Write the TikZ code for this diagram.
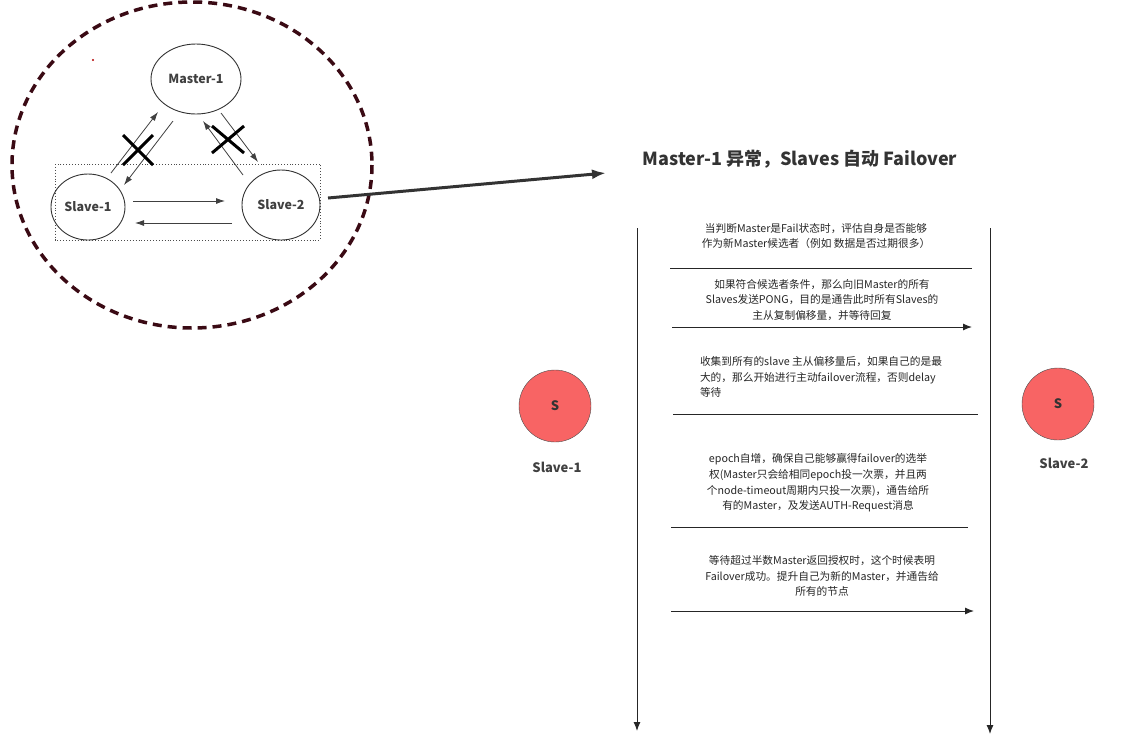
\documentclass[tikz,border=0pt]{standalone}
\usepackage{fontspec}
\setmainfont{Noto Sans CJK SC}
\usetikzlibrary{arrows.meta,shapes.geometric}
\definecolor{ring}{HTML}{3A0A14}
\definecolor{sred}{HTML}{F86464}
\tikzset{
  oval/.style={draw=black!80,line width=0.9pt,ellipse,inner sep=0pt,font=\bfseries\fontsize{12.5}{14}\selectfont,text=black!75},
  thin/.style={-{Latex[length=9pt,width=6pt]},black!75,line width=0.8pt},
  xmark/.style={line width=3pt,black},
  msg/.style={line width=1pt,black!85},
  msga/.style={msg,-{Latex[length=9pt,width=7pt]}},
  txt/.style={font=\fontsize{10.7}{15.7}\selectfont,text=black!85,align=center},
  scirc/.style={circle,draw=black!70,fill=sred,minimum size=72pt,font=\bfseries\fontsize{13}{14}\selectfont,text=black!80},
  lbl/.style={font=\bfseries\fontsize{13}{14}\selectfont,text=black!75}
}
\begin{document}
\begin{tikzpicture}[x=1pt,y=-1pt]
\useasboundingbox (0,0) rectangle (1144,740);
\draw[ring,line width=3.5pt,dash pattern=on 9pt off 6pt] (192,165) ellipse [x radius=180,y radius=163];
\fill[red!70!black] (93,60) circle (1.2);
\draw[black!70,dotted,line width=0.9pt] (55,164) rectangle (320,240);
\node[oval,minimum width=90pt,minimum height=70pt] (m1) at (196,79) {Master-1};
\node[oval,minimum width=74pt,minimum height=66pt] (s1) at (88,207) {Slave-1};
\node[oval,minimum width=78pt,minimum height=70pt] (s2) at (281,205) {Slave-2};
\coordinate (a1) at (111,173); \coordinate (a2) at (158,112);
\coordinate (b1) at (173,121); \coordinate (b2) at (124,185);
\coordinate (c1) at (221,113); \coordinate (c2) at (258,162);
\coordinate (d1) at (243,175); \coordinate (d2) at (203,121);
\draw[thin] (a1) -- (a2);
\draw[thin] (b1) -- (b2);
\draw[thin] (c1) -- (c2);
\draw[thin] (d1) -- (d2);
\coordinate (e1) at (133,201); \coordinate (e2) at (225,201);
\coordinate (f1) at (232,223); \coordinate (f2) at (135,223);
\draw[thin] (e1) -- (e2);
\draw[thin] (f1) -- (f2);
\draw[xmark] (123,135) -- (153,165) (123,165) -- (153,135);
\draw[xmark] (212,126) -- (244,153) (212,153) -- (244,126);
\coordinate (g1) at (328,198); \coordinate (g2) at (606,173);
\draw[black!80,line width=3pt,-{Latex[length=14pt,width=10pt]}] (g1) -- (g2);
\node[font=\bfseries\fontsize{18}{20}\selectfont,text=black!80] (title) at (800,159) {Master-1 异常，Slaves 自动 Failover};
\coordinate (l1) at (637,228); \coordinate (l2) at (637,731);
\coordinate (r1) at (990,228); \coordinate (r2) at (990,734);
\draw[msga] (l1) -- (l2);
\draw[msga] (r1) -- (r2);
\draw[msg] (670,268) coordinate (h1) -- (972,268) coordinate (h2);
\draw[msga] (672,327) coordinate (h3) -- (972,327) coordinate (h4);
\draw[msg] (673,414) coordinate (h5) -- (978,414) coordinate (h6);
\draw[msg] (671,527) coordinate (h7) -- (968,527) coordinate (h8);
\draw[msga] (671,611) coordinate (h9) -- (974,611) coordinate (h10);
\node[txt] (t1) at (816,236) {当判断Master是Fail状态时，评估自身是否能够\\作为新Master候选者（例如 数据是否过期很多）};
\node[txt] (t2) at (822,300) {如果符合候选者条件，那么向旧Master的所有\\Slaves发送PONG，目的是通告此时所有Slaves的\\主从复制偏移量，并等待回复};
\node[txt,align=left] (t3) at (821,377) {收集到所有的slave 主从偏移量后，如果自己的是最\\大的，那么开始进行主动failover流程，否则delay\\等待};
\node[txt] (t4) at (818,483) {epoch自增，确保自己能够赢得failover的选举\\权(Master只会给相同epoch投一次票，并且两\\个node-timeout周期内只投一次票)，通告给所\\有的Master，及发送AUTH-Request消息};
\node[txt] (t5) at (822,576) {等待超过半数Master返回授权时，这个时候表明\\Failover成功。提升自己为新的Master，并通告给\\所有的节点};
\node[scirc] (S1) at (555,406) {S};
\node[scirc] (S2) at (1058,404) {S};
\node[lbl] (n1) at (557,467) {Slave-1};
\node[lbl] (n2) at (1064,463) {Slave-2};
\end{tikzpicture}
\end{document}
